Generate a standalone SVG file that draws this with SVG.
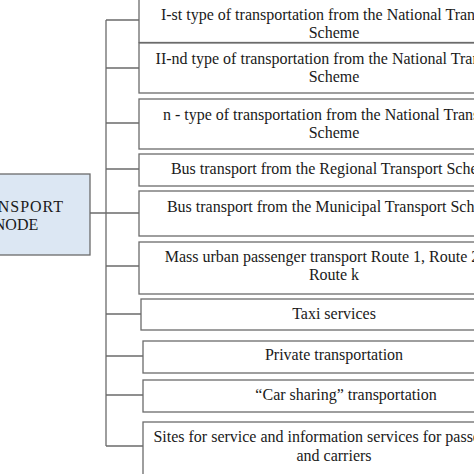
<svg xmlns="http://www.w3.org/2000/svg" width="474" height="474" viewBox="0 0 474 474">
<style>
.box{fill:#fff;stroke:#6b6b6b;stroke-width:1.3}
.hub{fill:#dce7f3;stroke:#6b6b6b;stroke-width:1.3}
.c{fill:none;stroke:#6b6b6b;stroke-width:1.3}
text{font-family:"Liberation Serif","Times New Roman",serif;font-size:16px;fill:#1a1a1a;text-anchor:middle}
</style>
<rect width="474" height="474" fill="#fff"/>
<g id="connectors">
<path class="c" d="M106,20 V446 M90,213 H139 M106,20 H139 M106,68 H139 M106,123 H139 M106,169 H139 M106,266 H139 M106,314 H141 M106,356 H143 M106,395 H143 M106,446 H143"/>
</g>
<g id="hub"><rect class="hub" x="-40" y="174" width="130" height="81"/><text x="13" y="212" textLength="100">TRANSPORT</text><text x="16" y="230">NODE</text></g>
<g id="n1"><rect class="box" x="139" y="-10" width="400" height="52.5"/><text x="334" y="20">I-st type of transportation from the National Transport</text><text x="334" y="38">Scheme</text></g>
<g id="n2"><rect class="box" x="139" y="43" width="400" height="50"/><text x="334" y="64">II-nd type of transportation from the National Transport</text><text x="334" y="82">Scheme</text></g>
<g id="n3"><rect class="box" x="139" y="99" width="400" height="50"/><text x="334" y="120">n - type of transportation from the National Transport</text><text x="334" y="138">Scheme</text></g>
<g id="n4"><rect class="box" x="139" y="154" width="400" height="32"/><text x="334" y="174">Bus transport from the Regional Transport Scheme</text></g>
<g id="n5"><rect class="box" x="139" y="191" width="400" height="45"/><text x="334" y="212">Bus transport from the Municipal Transport Scheme</text></g>
<g id="n6"><rect class="box" x="139" y="242" width="400" height="52"/><text x="334" y="262">Mass urban passenger transport Route 1, Route 2, …</text><text x="334" y="280">Route k</text></g>
<g id="n7"><rect class="box" x="141" y="299" width="400" height="31"/><text x="334" y="319">Taxi services</text></g>
<g id="n8"><rect class="box" x="143" y="341" width="400" height="32"/><text x="334" y="360">Private transportation</text></g>
<g id="n9"><rect class="box" x="143" y="380" width="400" height="32"/><text x="346" y="400">“Car sharing” transportation</text></g>
<g id="n10"><rect class="box" x="143" y="422" width="400" height="70"/><text x="334" y="442">Sites for service and information services for passengers</text><text x="334" y="461">and carriers</text></g>
</svg>
